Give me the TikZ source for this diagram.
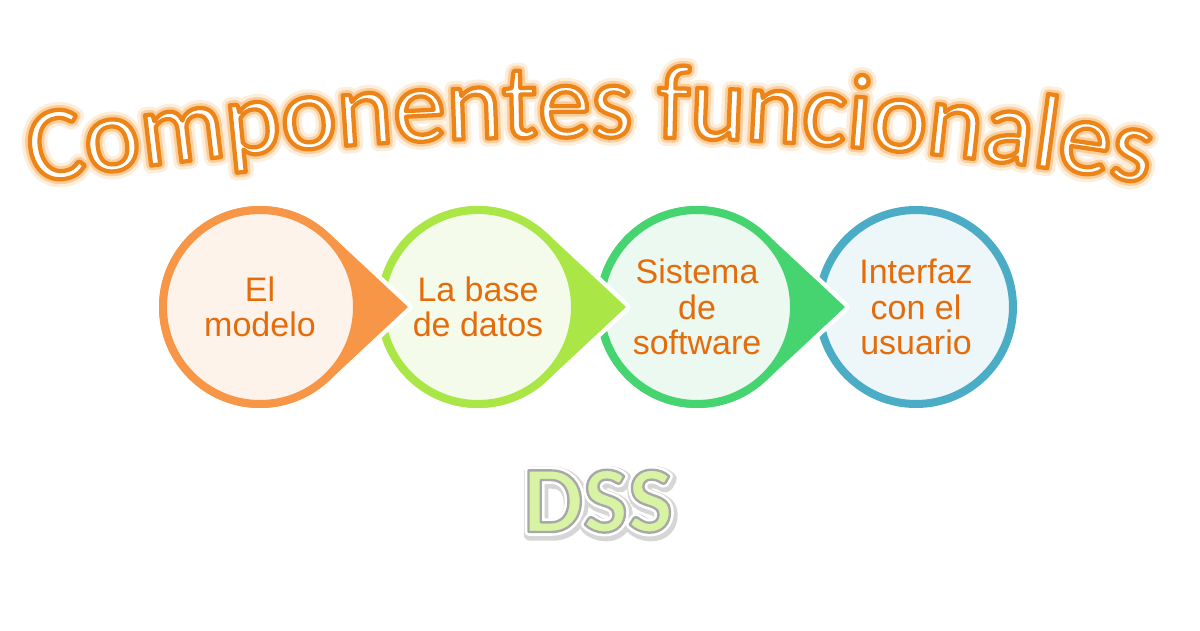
\documentclass[tikz,border=0pt]{standalone}
\usepackage{fontspec}
\setmainfont{Liberation Sans}
\newfontfamily\titleglow{Carlito}[FakeBold=15]
\newfontfamily\titlehalo{Carlito}[FakeBold=9]
\newfontfamily\titlefill{Carlito}[FakeBold=4]
\newfontfamily\dssglow{Carlito Bold}[FakeBold=13]
\newfontfamily\dssrim{Carlito Bold}[FakeBold=8]
\newfontfamily\dssfill{Carlito Bold}[FakeBold=2.5]
\usetikzlibrary{decorations.text}
\definecolor{glowpale}{HTML}{FDEEDC}
\definecolor{glowmid}{HTML}{FBCE9B}
\definecolor{stagetext}{HTML}{E46C0A}
\definecolor{orangering}{HTML}{F79646}
\definecolor{orangefill}{HTML}{FDF3EB}
\definecolor{limering}{HTML}{AAE646}
\definecolor{limefill}{HTML}{F4FBEB}
\definecolor{greenring}{HTML}{45D46F}
\definecolor{greenfill}{HTML}{ECF9F0}
\definecolor{bluering}{HTML}{4BACC6}
\definecolor{bluefill}{HTML}{EDF6F9}
\definecolor{dssshade}{HTML}{D6D6D6}
\definecolor{dssgreen}{HTML}{D8F3A4}
% stroke colour for the outlined letters (fill comes from \color)
\newcommand\titlestroke{\special{pdf:code 0.925 0.518 0.094 RG}}
\newcommand\dssstroke{\special{pdf:code 0.66 0.66 0.66 RG}}
\begin{document}
\begin{tikzpicture}[x=1pt,y=1pt,line join=round,
  stage/.style={circle,minimum size=194pt,inner sep=0pt,line width=8pt,align=center,
    text=stagetext,font=\fontsize{34}{35.5}\selectfont},
  arctitle/.style n args={3}{decorate,decoration={text along path,text align=center,
    text={|#1\fontsize{106}{110}\selectfont\color{#2}#3|Componentes funcionales}}}]
  \fill[white] (0,0) rectangle (1200,630);
  \useasboundingbox (0,0) rectangle (1200,630);

  \foreach \fnt/\col/\strk in {\titleglow/glowpale/\relax,\titlehalo/glowmid/\relax,\titlefill/white/\titlestroke}
    \path[arctitle={\fnt}{\col}{\strk}] (590,-2872) ++(100:3365) arc[start angle=100,end angle=80,radius=3365];

  \foreach \x/\name/\ring/\inner/\tip/\txt in {
      916/interfaz/bluering/bluefill/0/Interfaz\\con el\\usuario,
      697/software/greenring/greenfill/1/Sistema\\de\\software,
      478/datos/limering/limefill/1/La base\\de datos,
      260/modelo/orangering/orangefill/1/El\\modelo}
  {
    \ifnum\tip=1
      \path[preaction={draw=white,line width=9pt},fill=\ring] (\x+148,323)
        -- ([shift={(47:101)}]\x,323) arc[start angle=47,end angle=313,radius=101] -- cycle;
    \fi
    \node[stage,draw=\ring,fill=\inner] (\name) at (\x,323) {\txt};
  }

  \node[anchor=base,inner sep=0pt,text=dssshade,font=\dssglow\fontsize{95}{100}\selectfont]
    (dssshadow) at (599.5,95.5) {DSS};
  \node[anchor=base,inner sep=0pt,text=white,font=\dssrim\fontsize{95}{100}\selectfont]
    (dssrim) at (598,98) {DSS};
  \node[anchor=base,inner sep=0pt,text=dssgreen,font=\dssfill\fontsize{95}{100}\selectfont]
    (dss) at (598,98) {\dssstroke DSS};
\end{tikzpicture}
\end{document}
